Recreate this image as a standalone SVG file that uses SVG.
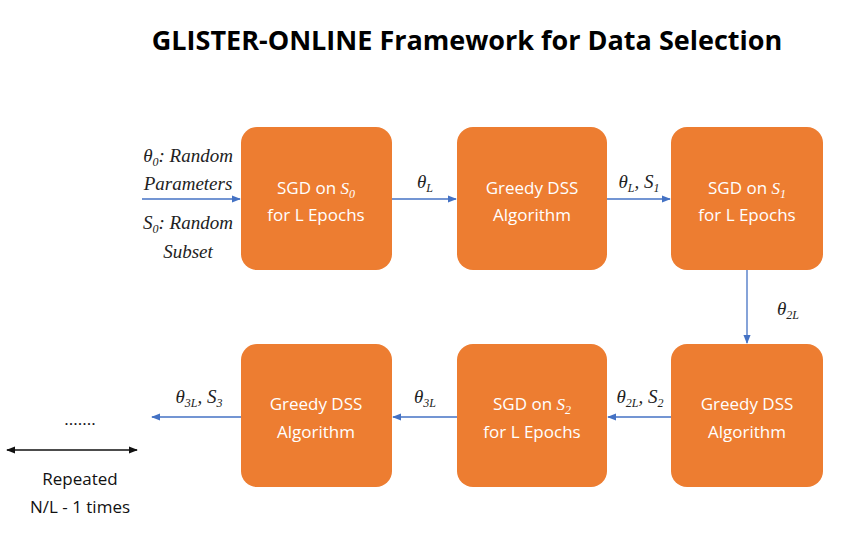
<svg xmlns="http://www.w3.org/2000/svg" width="842" height="547" viewBox="0 0 842 547">
<style>
.box{fill:#ED7D31;}
.t{font-family:"Open Sans","Liberation Sans",sans-serif;font-size:17px;fill:#fff;text-anchor:middle;}
.m{font-family:"Liberation Serif",serif;font-style:italic;font-size:19px;fill:#222;text-anchor:middle;}
.mi{font-family:"Liberation Serif",serif;font-style:italic;}
.c{stroke:#4472C4;stroke-width:1.3;fill:none;marker-end:url(#a);}
.k{font-family:"Open Sans","Liberation Sans",sans-serif;font-size:17px;fill:#111;text-anchor:middle;}
</style>
<defs>
<marker id="a" viewBox="0 0 10 10" refX="9" refY="5" markerWidth="7" markerHeight="7" orient="auto"><path d="M0,1 L10,5 L0,9 Z" fill="#4472C4"/></marker>
<marker id="b" viewBox="0 0 10 10" refX="9" refY="5" markerWidth="7" markerHeight="7" orient="auto-start-reverse"><path d="M0,1 L10,5 L0,9 Z" fill="#111"/></marker>
</defs>
<rect width="842" height="547" fill="#fff"/>
<text x="467" y="50" font-family="Open Sans,Liberation Sans,sans-serif" font-weight="bold" font-size="27" text-anchor="middle" fill="#000">GLISTER-ONLINE Framework for Data Selection</text>
<g id="n1"><rect class="box" x="241" y="127" width="151" height="143" rx="16"/><text class="t" x="316" y="194">SGD on <tspan class="mi">S</tspan><tspan class="mi" font-size="12" dy="4">0</tspan></text><text class="t" x="316" y="221">for L Epochs</text></g>
<g id="n2"><rect class="box" x="457" y="127" width="150" height="143" rx="16"/><text class="t" x="532" y="194">Greedy DSS</text><text class="t" x="532" y="221">Algorithm</text></g>
<g id="n3"><rect class="box" x="671" y="127" width="152" height="143" rx="16"/><text class="t" x="747" y="194">SGD on <tspan class="mi">S</tspan><tspan class="mi" font-size="12" dy="4">1</tspan></text><text class="t" x="747" y="221">for L Epochs</text></g>
<g id="n4"><rect class="box" x="671" y="344" width="152" height="143" rx="16"/><text class="t" x="747" y="410">Greedy DSS</text><text class="t" x="747" y="438">Algorithm</text></g>
<g id="n5"><rect class="box" x="457" y="344" width="150" height="143" rx="16"/><text class="t" x="532" y="410">SGD on <tspan class="mi">S</tspan><tspan class="mi" font-size="12" dy="4">2</tspan></text><text class="t" x="532" y="438">for L Epochs</text></g>
<g id="n6"><rect class="box" x="241" y="344" width="151" height="143" rx="16"/><text class="t" x="316" y="410">Greedy DSS</text><text class="t" x="316" y="438">Algorithm</text></g>
<g id="connectors">
<line class="c" x1="142" y1="199" x2="240" y2="199"/>
<line class="c" x1="392" y1="199" x2="456" y2="199"/>
<line class="c" x1="607" y1="199" x2="670" y2="199"/>
<line class="c" x1="747" y1="270" x2="747" y2="343"/>
<line class="c" x1="671" y1="417" x2="608" y2="417"/>
<line class="c" x1="457" y1="417" x2="393" y2="417"/>
<line class="c" x1="241" y1="417" x2="152" y2="417"/>
<line x1="7" y1="450" x2="137" y2="450" stroke="#111" stroke-width="1.3" marker-start="url(#b)" marker-end="url(#b)"/>
</g>
<g id="labels">
<text class="m" x="188" y="162">θ<tspan font-size="12" dy="4">0</tspan><tspan dy="-4">: Random</tspan></text>
<text class="m" x="188" y="190">Parameters</text>
<text class="m" x="188" y="229">S<tspan font-size="12" dy="4">0</tspan><tspan dy="-4">: Random</tspan></text>
<text class="m" x="188" y="258">Subset</text>
<text class="m" x="425" y="188">θ<tspan font-size="12" dy="4">L</tspan></text>
<text class="m" x="639" y="188">θ<tspan font-size="12" dy="4">L</tspan><tspan dy="-4">, S</tspan><tspan font-size="12" dy="4">1</tspan></text>
<text class="m" x="788" y="315">θ<tspan font-size="12" dy="4">2L</tspan></text>
<text class="m" x="640" y="403">θ<tspan font-size="12" dy="4">2L</tspan><tspan dy="-4">, S</tspan><tspan font-size="12" dy="4">2</tspan></text>
<text class="m" x="425" y="403">θ<tspan font-size="12" dy="4">3L</tspan></text>
<text class="m" x="199" y="403">θ<tspan font-size="12" dy="4">3L</tspan><tspan dy="-4">, S</tspan><tspan font-size="12" dy="4">3</tspan></text>
<text class="k" x="80" y="425">.......</text>
<text class="k" x="80" y="485">Repeated</text>
<text class="k" x="80" y="513">N/L - 1 times</text>
</g>
</svg>
